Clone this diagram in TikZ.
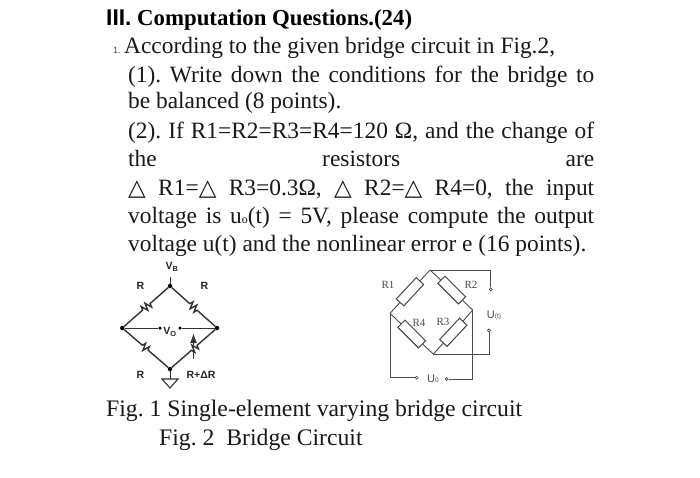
\documentclass[tikz,border=0pt]{standalone}
\usepackage{fontspec}
\setmainfont{Liberation Serif}
\setsansfont{Liberation Sans}
\newfontfamily\dvfont{DejaVu Sans}
\usetikzlibrary{decorations.pathmorphing,arrows.meta}
\frenchspacing
\newcommand{\tri}{{\dvfont\fontsize{23}{23}\selectfont △}}
\tikzset{
  x=1pt,y=-1pt,
  body/.style={anchor=base west,inner sep=0pt,font=\fontsize{23.4}{26}\selectfont,text=black!90},
  figcaption/.style={anchor=base west,inner sep=0pt,font=\fontsize{23.7}{26}\selectfont,text=black!90},
  head/.style={anchor=base west,inner sep=0pt,font=\fontsize{22.8}{26}\selectfont\bfseries},
  lab/.style={inner sep=0pt,font=\sffamily\bfseries\fontsize{10.5}{11}\selectfont,text=black!85},
  lab2/.style={inner sep=0pt,font=\fontsize{11}{11}\selectfont,text=black!70},
  wire/.style={line width=1.4pt,black!80},
  thin wire/.style={line width=.9pt,black!70},
  dot/.style={circle,fill=black,inner sep=0pt,minimum size=4.5pt},
  term/.style={circle,draw=black!70,fill=white,line width=.7pt,inner sep=0pt,minimum size=3pt},
  zz/.style={wire,decorate,decoration={zigzag,segment length=5pt,amplitude=3.6pt,pre length=24pt,post length=24pt}},
  res/.style={draw=black!70,line width=.9pt,fill=white,minimum width=29pt,minimum height=10pt,inner sep=0pt},
}
\begin{document}
\begin{tikzpicture}
\useasboundingbox (0,0) rectangle (700,477);
\fill[white] (0,0) rectangle (700,477);
% text
\node[head] (t0) at (106,25) {{\sffamily III.} Computation Questions.(24)};
\node[anchor=base west,inner sep=0pt,font=\sffamily\fontsize{9}{9}\selectfont,text=black!70] (t1n) at (113,53) {1.};
\node[body] (t1) at (124,53) {According to the given bridge circuit in Fig.2,};
\node[body] (t2) at (128,82) {\makebox[466pt][s]{(1). Write down the conditions for the bridge to}};
\node[body] (t3) at (128,108) {be balanced (8 points).};
\node[body] (t4) at (128,138) {\makebox[466pt][s]{(2). If R1=R2=R3=R4=120 Ω, and the change of}};
\node[body] (t5) at (128,166) {\makebox[466pt][s]{the resistors are}};
\node[body] (t6) at (128,195) {\makebox[466pt][s]{\tri\ R1=\tri\ R3=0.3Ω, \tri\ R2=\tri\ R4=0, the input}};
\node[body] (t7) at (128,223) {\makebox[466pt][s]{voltage is u{\fontsize{12}{12}\selectfont o}(t) = 5V, please compute the output}};
\node[body] (t8) at (128,251) {voltage u(t) and the nonlinear error e (16 points).};
\node[figcaption] (c1) at (106,416) {Fig. 1 Single-element varying bridge circuit};
\node[figcaption] (c2) at (159,445) {Fig. 2\ \ Bridge Circuit};
% left bridge
\node[dot] (T) at (170,286) {};
\node[dot] (L) at (122.3,328) {};
\node[dot] (Rt) at (217,328) {};
\node[dot] (B) at (170,369) {};
\node[dot,minimum size=3.5pt] (v1) at (160,328) {};
\node[dot,minimum size=3.5pt] (v2) at (180,328) {};
\coordinate (vtop) at (170,277);
\coordinate (gnd) at (170,379);
\draw[wire,line width=.7pt] (vtop) -- (T);
\draw[zz] (T) -- (L);
\draw[zz] (T) -- (Rt);
\draw[zz] (L) -- (B);
\draw[zz] (Rt) -- (B);
\draw[wire,line width=1pt] (L) -- (v1);
\draw[wire,line width=1pt] (v2) -- (Rt);
\draw[wire,line width=.7pt] (B) -- (gnd);
\draw[wire,line width=1.1pt] (162,379) -- (178,379) -- (170,388) -- cycle;
\coordinate (a0) at (193.5,359);
\coordinate (a1) at (193.5,333);
\draw[wire,-{Latex[length=10pt,width=7pt]}] (a0) -- (a1);
\node[lab] (lVB) at (172,267) {V\textsubscript{B}};
\node[lab] (lR1) at (140.5,286) {R};
\node[lab] (lR2) at (204.5,286) {R};
\node[lab] (lVo) at (170,332) {V\textsubscript{O}};
\node[lab] (lR3) at (140.5,375) {R};
\node[lab] (lR4) at (201,375) {R+ΔR};
% right bridge
\coordinate (pT) at (430,270);
\coordinate (pL) at (390,313.3);
\coordinate (pR) at (472.7,310);
\coordinate (pB) at (433.3,354);
\node[res,rotate=47] (r1) at (410,291.7) {};
\node[res,rotate=-45] (r2) at (451.7,290) {};
\node[res,rotate=-45] (r4) at (411.7,334) {};
\node[res,rotate=47] (r3) at (453.3,332.3) {};
\draw[thin wire] (pT) -- (r1) -- (pL);
\draw[thin wire] (pT) -- (r2) -- (pR);
\draw[thin wire] (pL) -- (r4) -- (pB);
\draw[thin wire] (pR) -- (r3) -- (pB);
\node[res,rotate=47] at (r1) {};
\node[res,rotate=-45] at (r2) {};
\node[res,rotate=-45] at (r4) {};
\node[res,rotate=47] at (r3) {};
\node[term] (o1) at (490.7,289.3) {};
\node[term] (o2) at (489,330.3) {};
\node[term] (i1) at (416.7,377.7) {};
\node[term] (i2) at (446.7,379) {};
\draw[thin wire] (pT) -| (o1);
\draw[thin wire] (pB) -| (o2);
\draw[thin wire] (pL) |- (i1);
\draw[thin wire] (pR) |- (i2);
\node[lab2] (lr1) at (388,285) {R1};
\node[lab2] (lr2) at (471,285) {R2};
\node[lab2] (lr4) at (419,323) {R4};
\node[lab2] (lr3) at (443,322) {R3};
\node[lab2,font=\sffamily\fontsize{11}{11}\selectfont] (lu1) at (494,315) {U{\fontsize{6.5}{6.5}\selectfont (t)}};
\node[lab2,font=\sffamily\fontsize{11}{11}\selectfont] (lu2) at (433,379) {U{\fontsize{6.5}{6.5}\selectfont 0}};
\end{tikzpicture}
\end{document}
